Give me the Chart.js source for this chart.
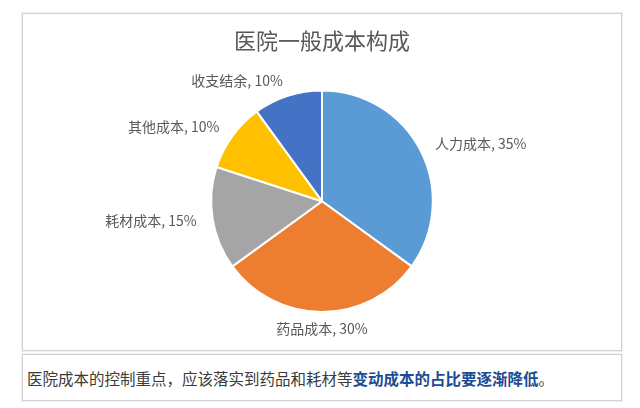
<!DOCTYPE html>
<html>
<head>
<meta charset="utf-8">
<script src="https://cdn.jsdelivr.net/npm/chart.js@4.4.1/dist/chart.umd.min.js"></script>
<style>
  body { margin: 0; background: #ffffff; width: 640px; height: 408px; position: relative; font-family: "Noto Sans CJK SC", sans-serif; }
  .chart-box { position: absolute; left: 22px; top: 13px; width: 598px; height: 336px; border: 1px solid #d2d2d2; box-shadow: 0 0 0 1px #efefef; }
  .chart-box canvas { position: absolute; left: 0; top: 0; }
  .caption { position: absolute; left: 22px; top: 354px; width: 598px; height: 45px; border: 1px solid #d2d2d2; box-shadow: 0 0 0 1px #efefef; }
  .caption p { margin: 0; position: absolute; left: 4px; top: 13px; font-size: 15.5px; line-height: 20px; color: #3a3a3a; white-space: nowrap; }
  .caption b { color: #1c4c94; }
</style>
</head>
<body>
<div class="chart-box">
  <canvas id="costChart" width="598" height="336"></canvas>
</div>
<div class="caption">
  <p>医院成本的控制重点，应该落实到药品和耗材等<b>变动成本的占比要逐渐降低</b>。</p>
</div>
<script>
const chartTitle = '医院一般成本构成'
const categories = ['人力成本', '药品成本', '耗材成本', '其他成本', '收支结余']
const shares = [35, 30, 15, 10, 10]
const sliceColors = ['#5B9BD5', '#ED7D31', '#A5A5A5', '#FFC000', '#4472C4']

// Excel style "name, pct%" labels just outside each slice
const outsideLabels = {
  id: 'outsideLabels',
  afterDatasetsDraw(chart) {
    const ctx = chart.ctx
    const meta = chart.getDatasetMeta(0)
    const total = shares.reduce((a, b) => a + b, 0)
    ctx.save()
    ctx.font = '14px "Noto Sans CJK SC", sans-serif'
    ctx.fillStyle = '#595959'
    meta.data.forEach((arc, i) => {
      const { x, y, startAngle, endAngle, outerRadius } = arc.getProps(['x', 'y', 'startAngle', 'endAngle', 'outerRadius'], true)
      const mid = (startAngle + endAngle) / 2
      const cos = Math.cos(mid)
      const sin = Math.sin(mid)
      const vertical = Math.abs(cos) < 0.2
      const r = outerRadius + (vertical ? 10 : 16)
      ctx.textAlign = vertical ? 'center' : (cos > 0 ? 'left' : 'right')
      ctx.textBaseline = vertical ? (sin > 0 ? 'top' : 'bottom') : 'middle'
      const pct = Math.round(shares[i] / total * 100)
      ctx.fillText(`${categories[i]}, ${pct}%`, x + cos * r, y + sin * r)
    })
    ctx.restore()
  }
}

const ctx = document.getElementById('costChart').getContext('2d')
new Chart(ctx, {
  type: 'pie',
  data: {
    labels: categories,
    datasets: [{
      data: shares,
      backgroundColor: sliceColors,
      borderColor: '#ffffff',
      borderWidth: 2
    }]
  },
  options: {
    responsive: false,
    animation: false,
    layout: {
      padding: { left: 187, right: 187, bottom: 37, top: 0 }
    },
    plugins: {
      legend: { display: false },
      tooltip: { enabled: false },
      title: {
        display: true,
        text: chartTitle,
        color: '#595959',
        font: { size: 22, weight: 'normal', family: '"Noto Sans CJK SC", sans-serif' },
        padding: { top: 13, bottom: 36 }
      }
    }
  },
  plugins: [outsideLabels]
})
</script>
</body>
</html>
